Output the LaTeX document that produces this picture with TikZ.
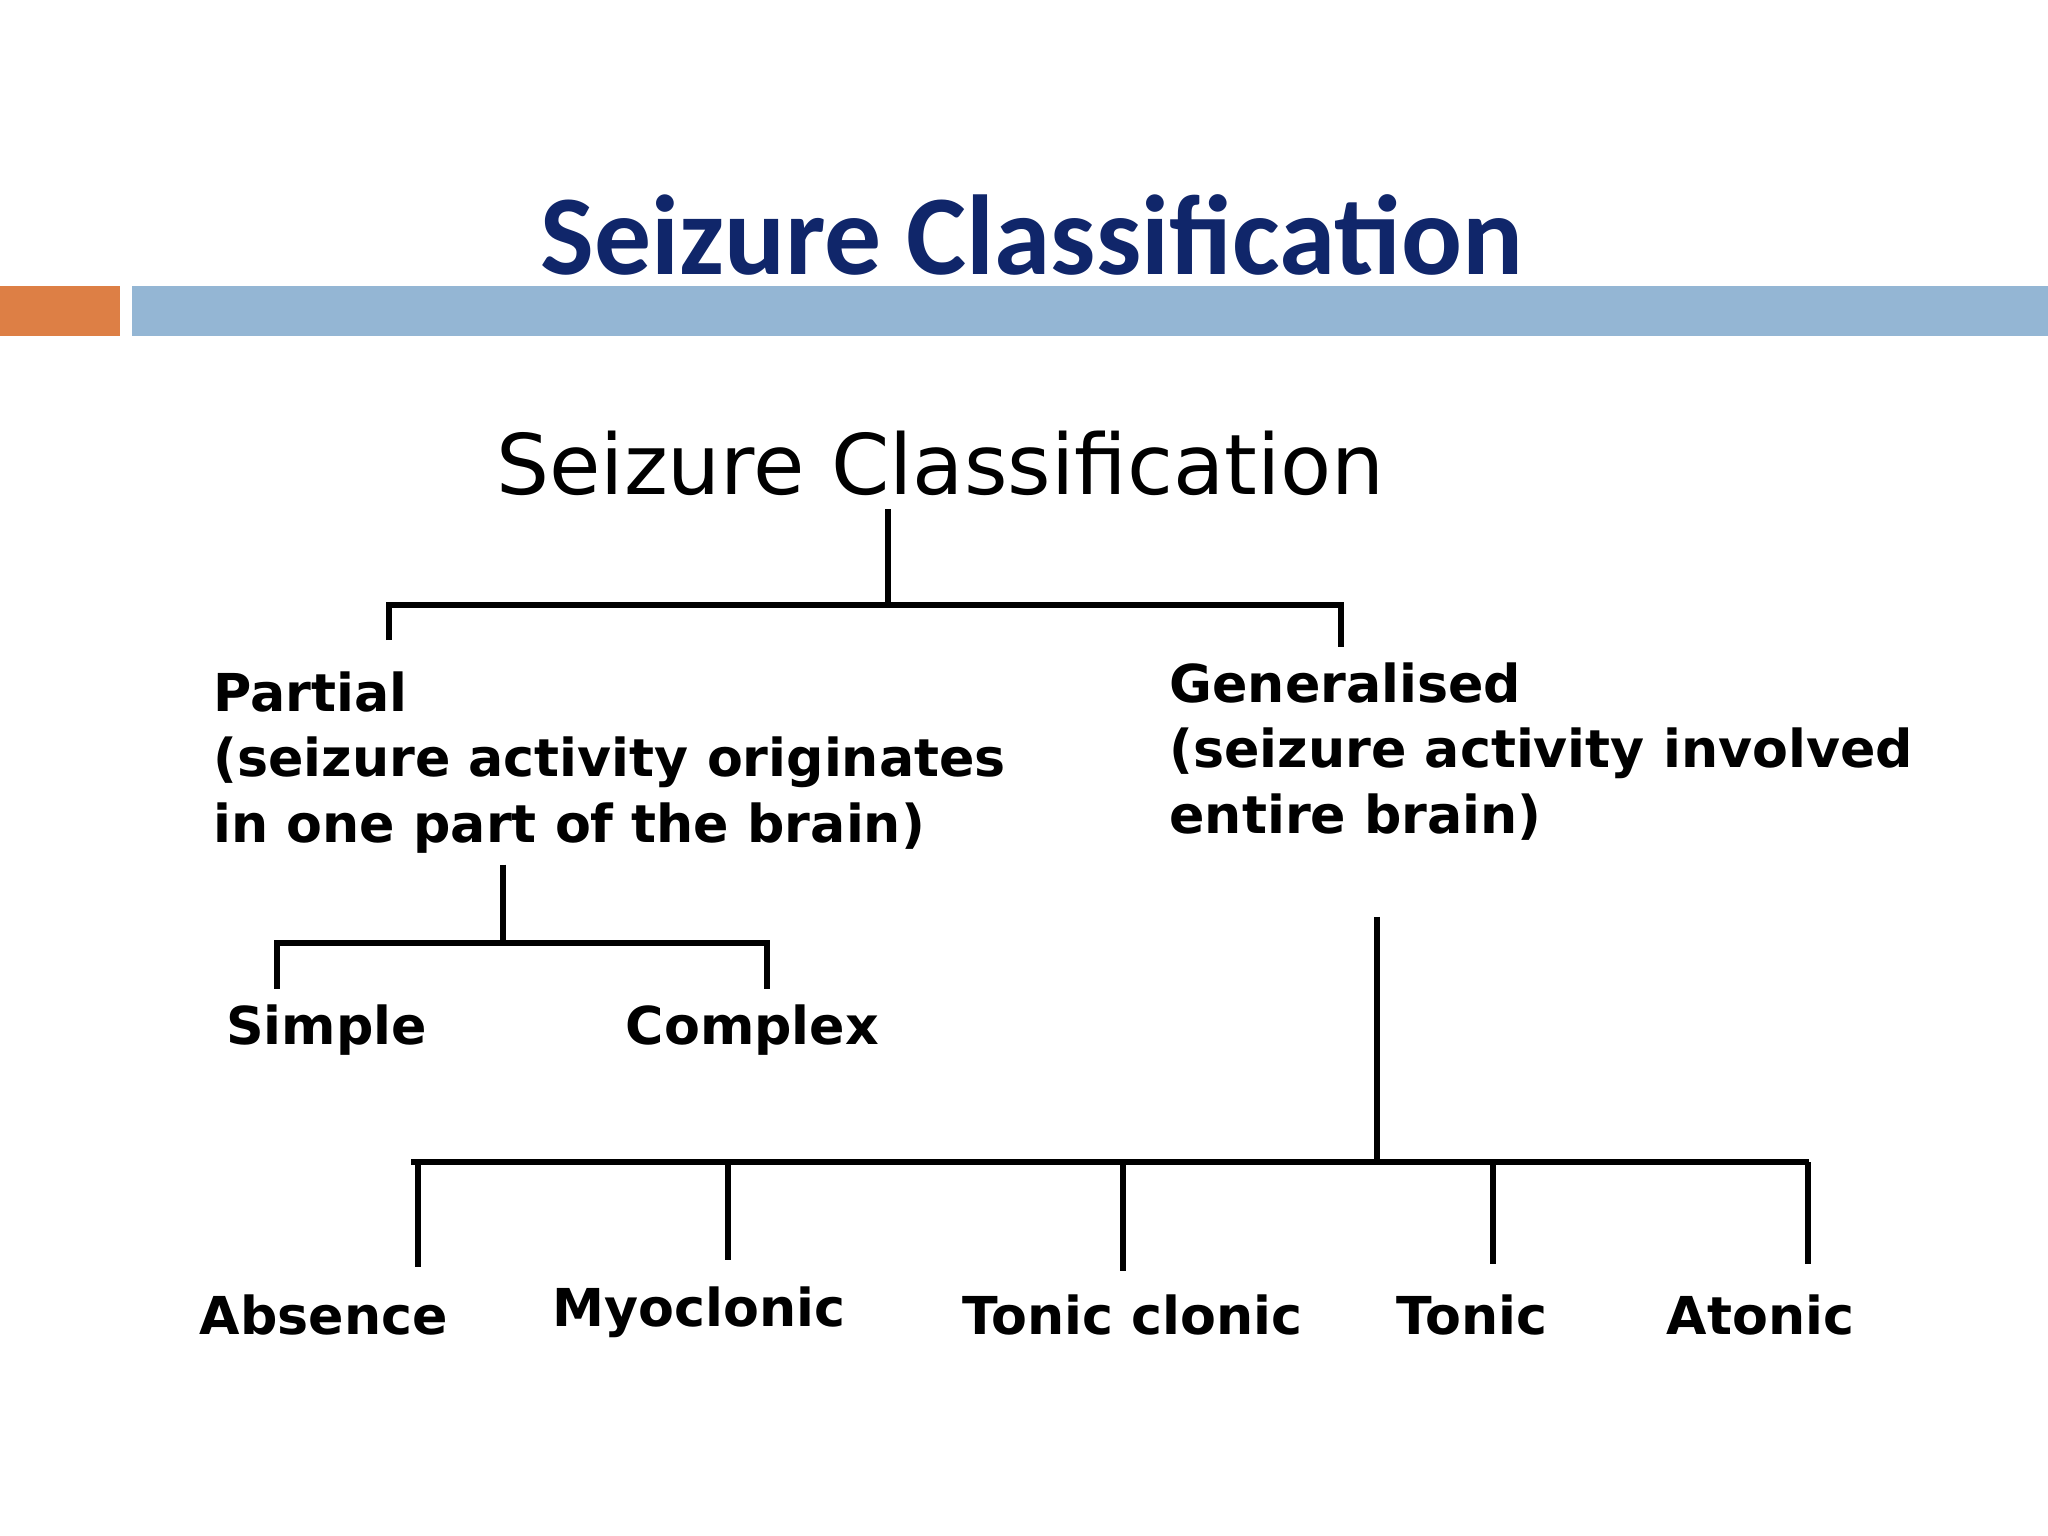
\documentclass[tikz,border=0pt]{standalone}
\usepackage{fontspec}
\setmainfont{DejaVu Sans}
\newfontfamily\titlefont{Carlito}
\definecolor{navy}{HTML}{10266A}
\definecolor{orng}{HTML}{DD7F45}
\definecolor{lblue}{HTML}{94B6D4}
\begin{document}
\begin{tikzpicture}[x=0.5pt,y=-0.5pt,
  ln/.style={line width=2.3pt,black},
  lab/.style={font=\bfseries\fontsize{20}{24}\selectfont,inner sep=0pt},
  par/.style={lab,align=left,anchor=north west,font=\bfseries\fontsize{20}{25}\selectfont}]
\useasboundingbox (0,0) rectangle (1568,1176);
\fill[white] (0,0) rectangle (1568,1176);
\node[font=\titlefont\bfseries\fontsize{43.5}{50}\selectfont,text=navy] (title) at (790,180) {Seizure Classification};
\fill[orng] (0,219) rectangle (92,257);
\fill[lblue] (101,219) rectangle (1568,257);
\node[font=\fontsize{32}{36}\selectfont,inner sep=0pt] (root) at (720,355) {Seizure Classification};
\node[par] (partial) at (163,514) {Partial\\(seizure activity originates\\in one part of the brain)};
\node[par] (gen) at (895,507) {Generalised\\(seizure activity involved\\entire brain)};
\node[lab] (simple) at (250,789) {Simple};
\node[lab] (complex) at (576,789) {Complex};
\node[lab] (abs) at (248,1007) {Absence};
\node[lab] (myo) at (535,1005) {Myoclonic};
\node[lab] (tc) at (867,1007) {Tonic clonic};
\node[lab] (ton) at (1127,1007) {Tonic};
\node[lab] (aton) at (1348,1007) {Atonic};
\coordinate (r0) at (680,390);
\coordinate (p0) at (298,490);
\coordinate (g0) at (1027,495);
\coordinate (ps) at (385,662);
\coordinate (s0) at (212,757);
\coordinate (c0) at (587,757);
\coordinate (gs) at (1054,702);
\coordinate (a0) at (320,970);
\coordinate (m0) at (557,965);
\coordinate (t0) at (860,973);
\coordinate (o0) at (1143,968);
\coordinate (n0) at (1384,968);
\draw[ln] (r0) -- (680,463);
\draw[ln] (p0) |- (g0|-0,463) -- (g0);
\draw[ln] (ps) -- (385,722);
\draw[ln] (s0) |- (c0|-0,722) -- (c0);
\draw[ln] (gs) -- (1054,890);
\draw[ln] (315,890) -- (1385,890);
\foreach \c in {a0,m0,t0,o0,n0} \draw[ln] (\c|-0,890) -- (\c);
\end{tikzpicture}
\end{document}
